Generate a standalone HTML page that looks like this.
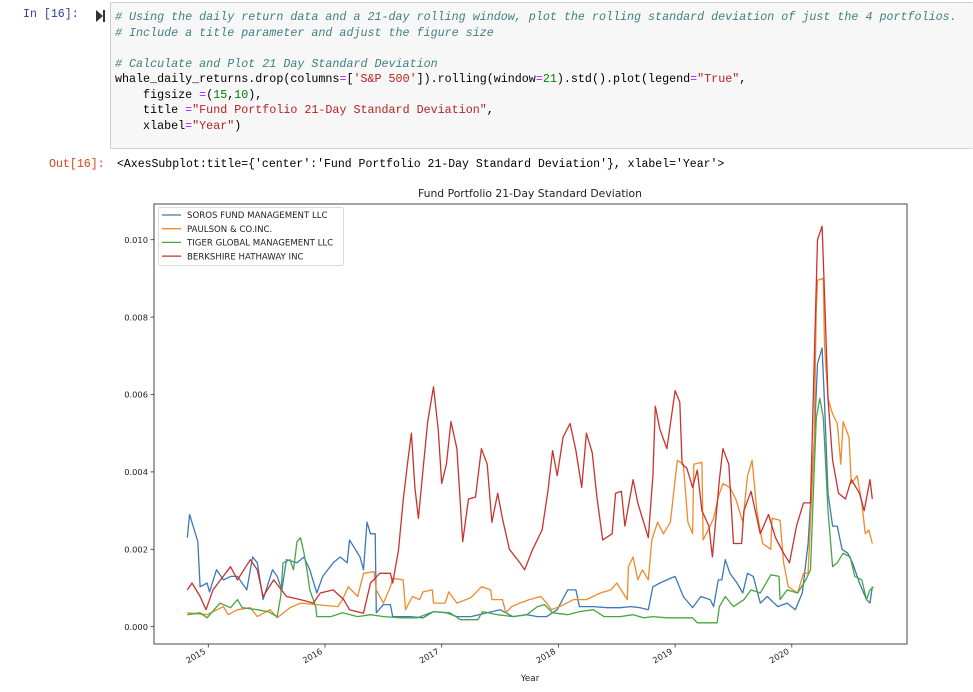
<!DOCTYPE html>
<html><head><meta charset="utf-8">
<style>
html,body{margin:0;padding:0;background:#fff;width:973px;height:692px;overflow:hidden;position:relative;font-family:"Liberation Sans",sans-serif}
.prompt{position:absolute;font-family:"Liberation Mono",monospace;font-size:11.6px}
#code{position:absolute;left:110px;top:2px;width:863px;height:147px;background:#f7f7f7;border:1px solid #cfcfcf;border-right:none;border-radius:2px;box-sizing:border-box;overflow:hidden}
#code pre{margin:0;position:absolute;left:4px;top:7px;font-family:"Liberation Mono",monospace;font-size:11.7px;line-height:15.5px;color:#000;white-space:pre}
.c{color:#408080;font-style:italic}.s{color:#BA2121}.n{color:#008000}.o{color:#AA22FF}
#out{position:absolute;left:117px;top:158px;font-family:"Liberation Mono",monospace;font-size:11.5px;color:#000;white-space:pre}
</style></head><body>
<div class="prompt" style="left:23px;top:8px;color:#303F9F">In [16]:</div>
<div style="position:absolute;left:96px;top:10px;width:0;height:0;border-top:6px solid transparent;border-bottom:6px solid transparent;border-left:7px solid #333"></div>
<div style="position:absolute;left:103px;top:10px;width:2px;height:12px;background:#333"></div>
<div id="code"><pre><span class="c"># Using the daily return data and a 21-day rolling window, plot the rolling standard deviation of just the 4 portfolios.</span>
<span class="c"># Include a title parameter and adjust the figure size</span>

<span class="c"># Calculate and Plot 21 Day Standard Deviation</span>
whale_daily_returns.drop(columns<span class="o">=</span>[<span class="s">'S&amp;P 500'</span>]).rolling(window<span class="o">=</span><span class="n">21</span>).std().plot(legend<span class="o">=</span><span class="s">"True"</span>,
    figsize <span class="o">=</span>(<span class="n">15</span>,<span class="n">10</span>),
    title <span class="o">=</span><span class="s">"Fund Portfolio 21-Day Standard Deviation"</span>,
    xlabel<span class="o">=</span><span class="s">"Year"</span>)</pre></div>
<div class="prompt" style="left:49px;top:158px;color:#D84315">Out[16]:</div>
<div id="out">&lt;AxesSubplot:title={'center':'Fund Portfolio 21-Day Standard Deviation'}, xlabel='Year'&gt;</div>

<svg id="chart" width="973" height="692" style="position:absolute;left:0;top:0" font-family="DejaVu Sans, Liberation Sans, sans-serif"></svg>

<script>
// values in units of 0.001 (std dev); dates in decimal years
const yTicks = [0, 2, 4, 6, 8, 10];
const yTickLabels = ["0.000","0.002","0.004","0.006","0.008","0.010"];
const xTicks = [2015, 2016, 2017, 2018, 2019, 2020];
const xTickLabels = ["2015","2016","2017","2018","2019","2020"];
const seriesNames = ["SOROS FUND MANAGEMENT LLC","PAULSON & CO.INC.","TIGER GLOBAL MANAGEMENT LLC","BERKSHIRE HATHAWAY INC"];

const sorosDates = [2014.82,2014.84,2014.87,2014.91,2014.93,2014.99,2015.01,2015.07,2015.13,2015.19,2015.25,2015.33,2015.38,2015.42,2015.47,2015.55,2015.59,2015.63,2015.67,2015.76,2015.82,2015.87,2015.93,2015.98,2016.07,2016.13,2016.19,2016.21,2016.26,2016.30,2016.33,2016.36,2016.39,2016.43,2016.44,2016.50,2016.56,2016.58,2016.73,2016.84,2016.93,2017.04,2017.13,2017.25,2017.39,2017.50,2017.61,2017.73,2017.82,2017.90,2017.99,2018.08,2018.15,2018.18,2018.30,2018.42,2018.53,2018.62,2018.70,2018.77,2018.81,2018.87,2018.93,2019.00,2019.07,2019.15,2019.22,2019.30,2019.33,2019.37,2019.40,2019.43,2019.47,2019.53,2019.58,2019.62,2019.67,2019.73,2019.79,2019.88,2019.96,2020.03,2020.09,2020.14,2020.19,2020.22,2020.26,2020.28,2020.31,2020.35,2020.39,2020.43,2020.48,2020.52,2020.58,2020.64,2020.67,2020.69];
const sorosValues = [2.3,2.9,2.6,2.2,1.03,1.13,0.9,1.47,1.21,1.3,1.3,0.95,1.8,1.65,0.7,1.47,1.3,0.95,1.73,1.65,1.8,1.47,0.87,1.3,1.65,1.8,1.65,2.24,2.0,1.8,1.47,2.7,2.4,2.4,0.36,0.57,0.57,0.26,0.26,0.23,0.39,0.36,0.26,0.26,0.36,0.44,0.26,0.31,0.26,0.26,0.44,0.95,0.95,0.52,0.52,0.49,0.49,0.52,0.49,0.44,1.03,1.13,1.21,1.3,0.78,0.49,0.78,0.7,0.52,1.21,1.21,1.73,1.38,1.13,0.87,1.38,1.3,0.61,0.78,0.52,0.61,0.44,0.87,2.15,4.7,6.8,7.2,5.8,3.45,2.6,2.6,2.0,1.9,1.65,1.13,0.7,0.61,1.03];

const paulsonDates = [2014.82,2014.99,2015.13,2015.17,2015.25,2015.36,2015.42,2015.53,2015.59,2015.70,2015.79,2015.93,2016.11,2016.15,2016.20,2016.28,2016.33,2016.42,2016.44,2016.50,2016.56,2016.58,2016.67,2016.69,2016.75,2016.81,2016.84,2016.92,2016.93,2017.03,2017.06,2017.13,2017.25,2017.34,2017.42,2017.43,2017.52,2017.55,2017.60,2017.67,2017.75,2017.85,2017.90,2017.94,2018.01,2018.13,2018.24,2018.36,2018.45,2018.50,2018.59,2018.60,2018.64,2018.68,2018.72,2018.77,2018.80,2018.85,2018.90,2018.96,2019.00,2019.02,2019.07,2019.11,2019.15,2019.16,2019.23,2019.24,2019.30,2019.33,2019.37,2019.41,2019.47,2019.52,2019.58,2019.62,2019.66,2019.70,2019.75,2019.82,2019.83,2019.90,2019.93,2019.97,2020.05,2020.10,2020.14,2020.19,2020.21,2020.22,2020.27,2020.28,2020.31,2020.35,2020.39,2020.42,2020.44,2020.49,2020.51,2020.56,2020.60,2020.63,2020.66,2020.69];
const paulsonValues = [0.36,0.31,0.52,0.31,0.44,0.49,0.26,0.44,0.23,0.49,0.61,0.57,0.52,0.7,1.03,0.78,1.38,1.42,0.95,0.61,1.03,1.25,1.21,0.44,0.78,0.7,0.9,0.95,0.61,0.61,0.9,0.61,0.75,1.03,0.95,0.7,0.7,0.36,0.52,0.61,0.7,0.78,0.61,0.44,0.52,0.7,0.7,0.87,0.95,1.13,0.7,1.55,1.8,1.21,1.47,1.21,2.24,2.7,2.4,2.7,3.8,4.3,4.2,2.7,2.4,4.2,4.25,2.24,2.6,2.8,3.35,3.7,3.6,3.3,2.7,3.9,4.3,3.0,2.15,2.0,2.8,2.75,1.65,1.03,0.87,1.38,1.38,4.7,8.2,8.95,9.0,7.3,5.9,5.5,5.25,4.2,5.3,4.9,3.7,3.9,3.2,2.4,2.5,2.15];

const tigerDates = [2014.82,2014.93,2014.99,2015.10,2015.19,2015.25,2015.29,2015.42,2015.51,2015.59,2015.62,2015.64,2015.70,2015.73,2015.76,2015.79,2015.82,2015.85,2015.87,2015.92,2015.93,2016.05,2016.15,2016.28,2016.39,2016.50,2016.65,2016.79,2016.93,2017.07,2017.16,2017.31,2017.35,2017.48,2017.61,2017.73,2017.82,2017.88,2017.95,2018.08,2018.18,2018.30,2018.39,2018.53,2018.64,2018.73,2018.81,2018.93,2019.05,2019.15,2019.19,2019.36,2019.38,2019.43,2019.50,2019.59,2019.65,2019.73,2019.82,2019.89,2019.90,2019.96,2020.05,2020.12,2020.16,2020.19,2020.21,2020.24,2020.27,2020.31,2020.35,2020.39,2020.44,2020.50,2020.54,2020.60,2020.64,2020.67,2020.70];
const tigerValues = [0.31,0.36,0.23,0.61,0.49,0.7,0.49,0.44,0.39,0.26,0.78,1.65,1.73,1.47,2.2,2.3,1.9,1.38,0.95,0.52,0.26,0.26,0.36,0.26,0.31,0.26,0.23,0.23,0.39,0.36,0.18,0.18,0.39,0.31,0.26,0.31,0.52,0.57,0.36,0.31,0.39,0.44,0.26,0.26,0.31,0.23,0.26,0.23,0.23,0.23,0.1,0.1,0.52,0.78,0.52,0.7,0.95,0.87,1.34,1.3,0.7,0.95,0.87,1.21,1.47,3.9,5.4,5.9,5.4,3.0,1.55,1.65,1.9,1.8,1.3,1.21,0.7,0.95,1.03];

const berkshireDates = [2014.82,2014.86,2014.93,2014.98,2015.04,2015.19,2015.25,2015.36,2015.42,2015.47,2015.56,2015.67,2015.79,2015.90,2015.96,2016.07,2016.16,2016.21,2016.33,2016.39,2016.47,2016.56,2016.58,2016.63,2016.67,2016.71,2016.74,2016.77,2016.80,2016.84,2016.88,2016.93,2016.97,2017.00,2017.04,2017.08,2017.13,2017.17,2017.18,2017.23,2017.29,2017.34,2017.39,2017.43,2017.48,2017.52,2017.58,2017.67,2017.71,2017.78,2017.86,2017.91,2017.95,2017.99,2018.04,2018.10,2018.15,2018.20,2018.24,2018.29,2018.33,2018.38,2018.46,2018.49,2018.54,2018.57,2018.64,2018.68,2018.77,2018.81,2018.83,2018.87,2018.93,2019.00,2019.04,2019.06,2019.10,2019.15,2019.19,2019.23,2019.29,2019.32,2019.35,2019.38,2019.41,2019.46,2019.50,2019.57,2019.59,2019.65,2019.73,2019.80,2019.86,2019.93,2019.98,2020.04,2020.10,2020.16,2020.20,2020.22,2020.26,2020.28,2020.31,2020.35,2020.40,2020.46,2020.51,2020.58,2020.62,2020.67,2020.69];
const berkshireValues = [0.95,1.13,0.78,0.44,0.95,1.55,1.21,1.73,1.47,0.78,1.21,0.78,0.7,0.61,0.87,0.95,0.7,0.44,0.35,1.13,1.38,1.38,1.13,1.98,3.27,4.3,5.0,3.6,2.8,4.05,5.3,6.2,5.1,3.7,4.2,5.3,4.6,2.7,2.2,3.3,3.35,4.6,4.2,2.7,3.45,2.8,2.0,1.65,1.47,2.0,2.5,3.5,4.55,3.9,4.9,5.25,4.55,3.6,5.0,4.5,3.35,2.24,2.4,3.45,3.5,2.6,3.8,3.2,2.3,3.9,5.7,5.1,4.6,6.1,5.8,4.2,4.1,3.6,4.05,3.0,2.6,1.8,2.8,3.8,4.6,4.2,2.15,2.15,3.0,3.5,2.4,2.9,2.3,1.9,1.65,2.6,3.2,3.2,7.7,10.0,10.35,8.6,5.9,4.3,3.45,3.3,3.8,3.45,3.0,3.8,3.3];

const colors = ["#3f78b6","#f08a2c","#47a640","#c8332e"];
const NS = "http://www.w3.org/2000/svg";
const svg = document.getElementById("chart");
const L=154, R=907, T=204, B=644;
function xScale(yr){ return 208.3 + (yr - 2015) * 116.7; }
function yScale(v){ return 626.7 - v * 38.7; }
function mk(tag, attrs, parent){
  const e = document.createElementNS(NS, tag);
  for (const k in attrs) e.setAttribute(k, attrs[k]);
  (parent||svg).appendChild(e);
  return e;
}

const title = mk("text",{x:530,y:197,"text-anchor":"middle","font-size":"10.8","fill":"#222"});


title.textContent = "Fund Portfolio 21-Day Standard Deviation";

const allDates = [sorosDates, paulsonDates, tigerDates, berkshireDates];
const allValues = [sorosValues, paulsonValues, tigerValues, berkshireValues];
const lineNames = ["soros-line","paulson-line","tiger-line","berkshire-line"];
const g = mk("g",{});


for (let s=0; s<4; s++){
  const d = allDates[s].map((yr,i)=> (i?"L":"M") + xScale(yr).toFixed(1) + "," + yScale(allValues[s][i]).toFixed(1)).join(" ");
  const p = mk("path",{d:d,fill:"none",stroke:colors[s],"stroke-width":"1.3","stroke-linejoin":"round"}, g);
  
  
}

const frame = mk("rect",{x:L,y:T,width:R-L,height:B-T,fill:"none",stroke:"#333","stroke-width":"0.9"});



yTicks.forEach((v,i)=>{
  const y = yScale(v);
  const t = mk("line",{x1:L-3.5,x2:L,y1:y,y2:y,stroke:"#333","stroke-width":"0.8"});
  
  
  const lb = mk("text",{x:L-6,y:y+3.2,"text-anchor":"end","font-size":"8.3","fill":"#222"});
  
  
  lb.textContent = yTickLabels[i];
});
xTicks.forEach((yr,i)=>{
  const x = xScale(yr);
  const t = mk("line",{x1:x,x2:x,y1:B,y2:B+3.5,stroke:"#333","stroke-width":"0.8"});
  
  
  const lb = mk("text",{x:x-2,y:B+9,"text-anchor":"end","font-size":"8.3","fill":"#222",transform:"rotate(-30 "+(x-2)+" "+(B+9)+")"});
  
  
  lb.textContent = xTickLabels[i];
});
const xt = mk("text",{x:530,y:681,"text-anchor":"middle","font-size":"8.8","fill":"#222"});


xt.textContent = "Year";

const lg = mk("g",{});


const lbox = mk("rect",{x:158.5,y:207.5,width:185,height:58,rx:2,fill:"#fff","fill-opacity":"0.85",stroke:"#d0d0d0","stroke-width":"0.8"}, lg);


seriesNames.forEach((n,i)=>{
  const y = 215 + i*13.7;
  const ln = mk("line",{x1:162,x2:181,y1:y,y2:y,stroke:colors[i],"stroke-width":"1.3"}, lg);
  
  
  const tx = mk("text",{x:187,y:y+3.2,"font-size":"8.6","fill":"#222"}, lg);
  
  
  tx.textContent = n;
});
</script>
</body></html>
